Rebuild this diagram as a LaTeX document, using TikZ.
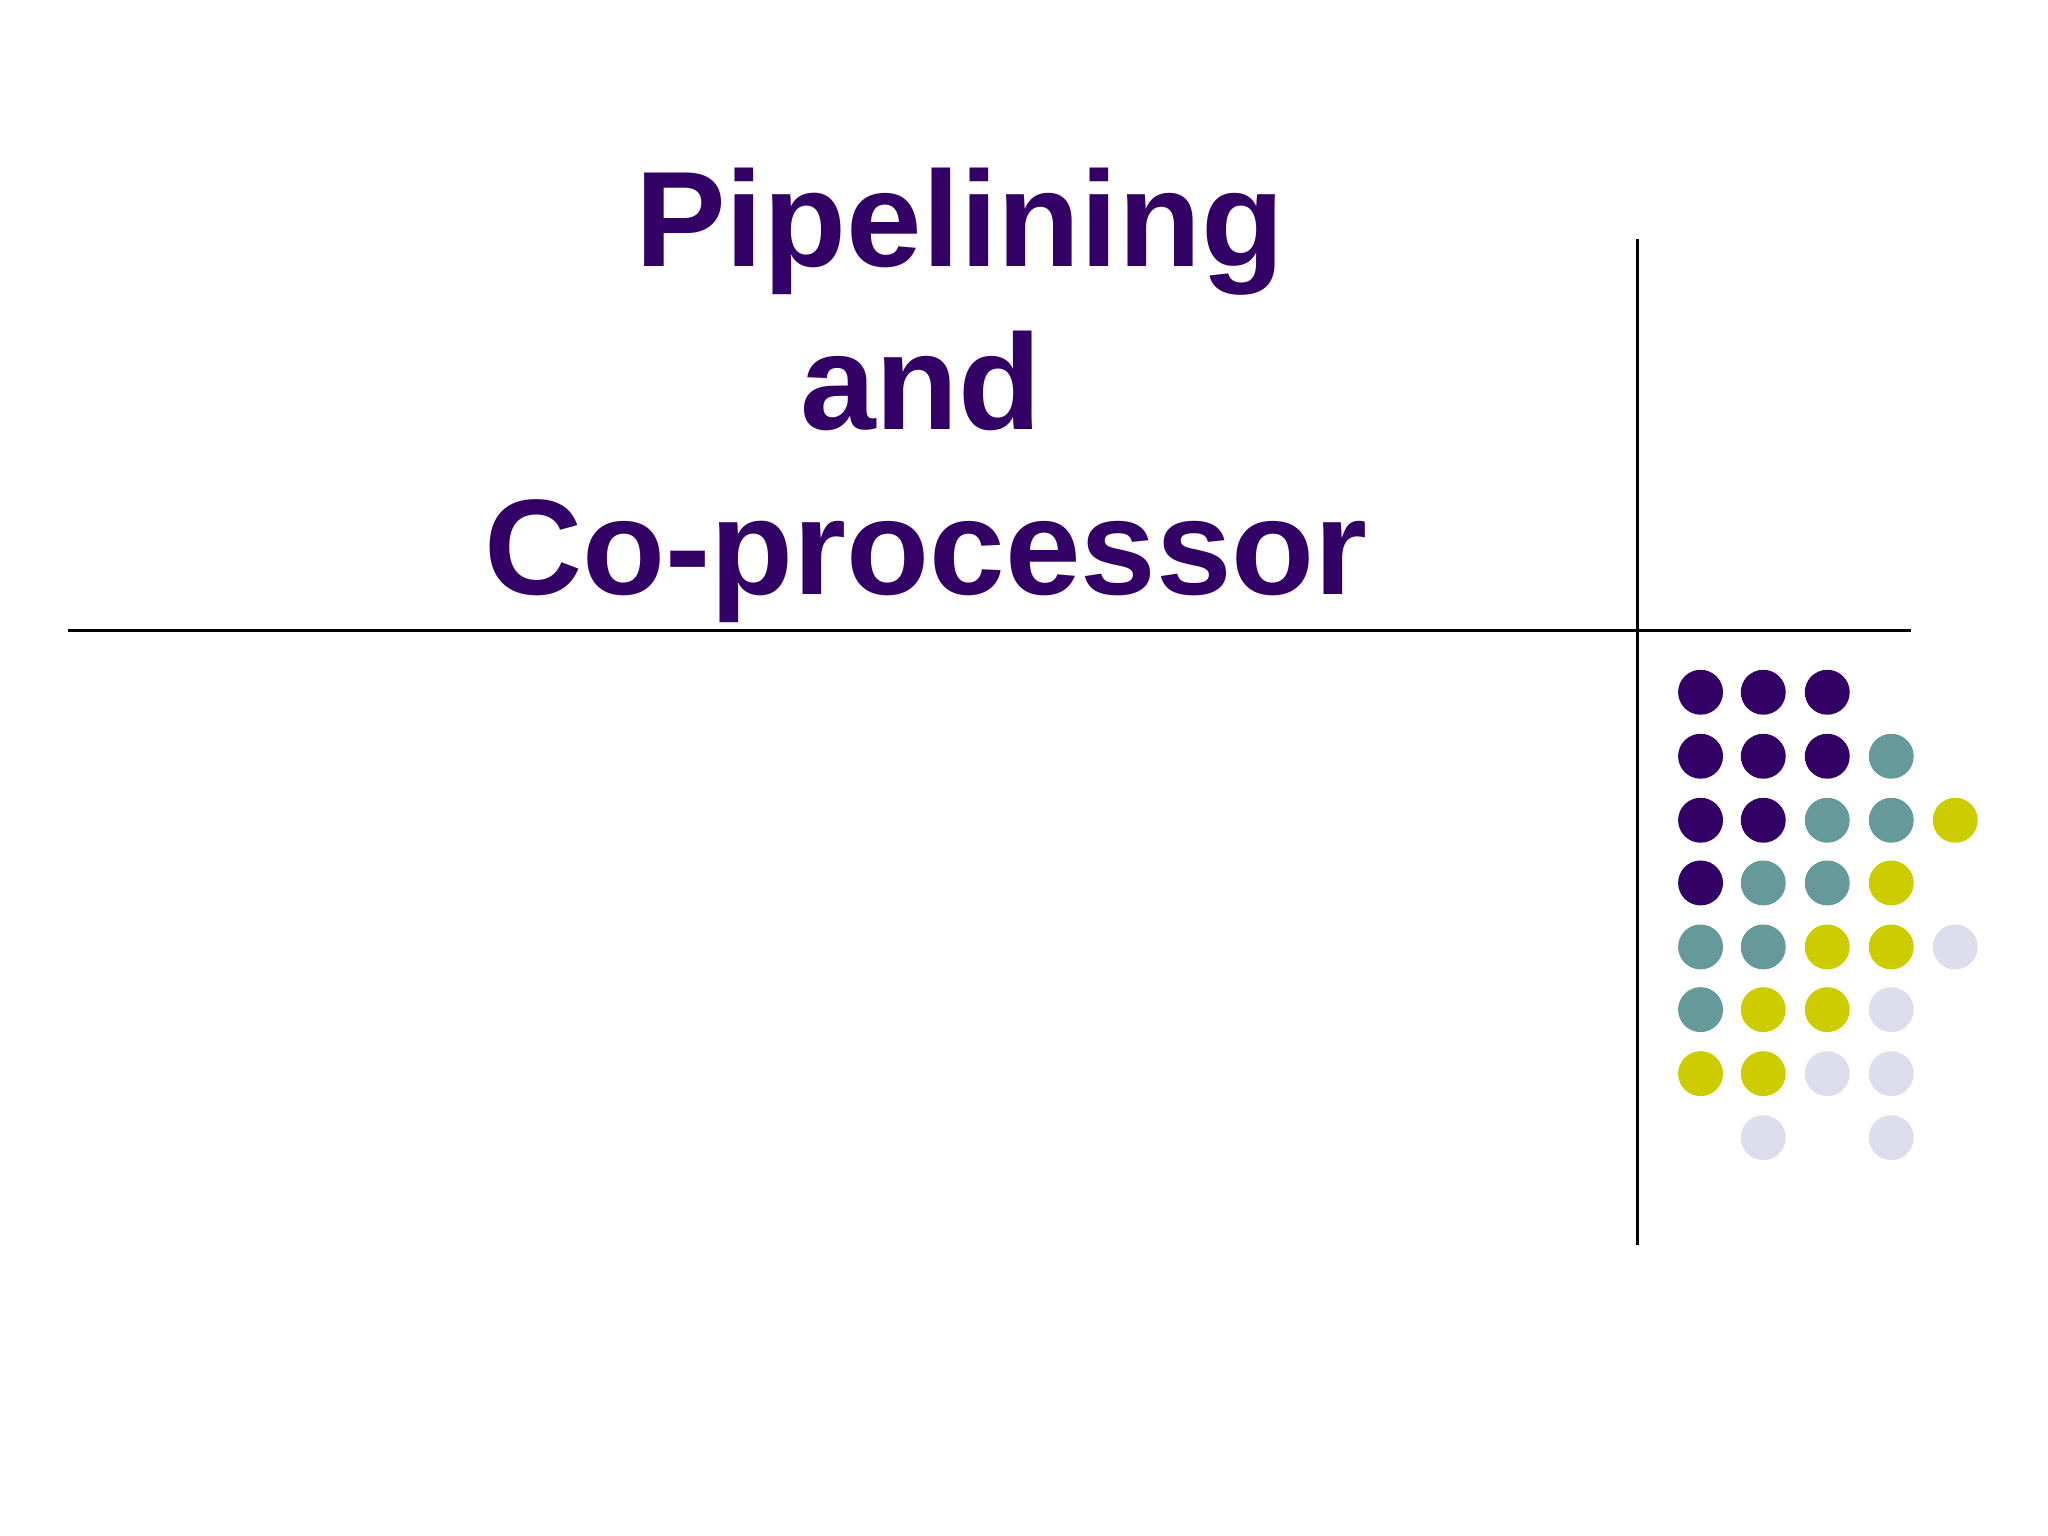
\documentclass[tikz,border=0pt]{standalone}
\usepackage{fontspec}
\setmainfont{Liberation Sans}
\definecolor{cP}{HTML}{330066}
\definecolor{cT}{HTML}{669999}
\definecolor{cY}{HTML}{CCCC00}
\definecolor{cL}{HTML}{DDDDEE}
\begin{document}
\begin{tikzpicture}[x=0.0125cm,y=-0.0125cm,
  ttl/.style={anchor=base,text=cP,font=\fontsize{37}{44}\selectfont\bfseries,inner sep=0pt},
  dot/.style={circle,minimum size=0.43cm,inner sep=0pt}]
\useasboundingbox (0,0) rectangle (1568,1176);
\node[ttl] (t1) at (735,204) {Pipelining};
\node[ttl] (t2) at (705,329) {and};
\node[ttl] (t3) at (709,455) {Co-processor};
\draw[line width=0.8pt] (52,483) coordinate (h1) -- (1463,483) coordinate (h2);
\draw[line width=0.8pt] (1254,183) coordinate (v1) -- (1254,953) coordinate (v2);
\def\xs{{1302,1350,1399,1448,1497}}
\foreach \row/\cols [count=\r] in {530/{P,P,P},579/{P,P,P,T},628/{P,P,T,T,Y},676/{P,T,T,Y},725/{T,T,Y,Y,L},773/{T,Y,Y,L},822/{Y,Y,L,L},871/{N,L,N,L}}{
  \foreach \c [count=\i from 0] in \cols {
    \if\c N\else
      \pgfmathsetmacro\xx{\xs[\i]}
      \node[dot,fill=c\c] (d\r-\i) at (\xx,\row) {};
    \fi
  }
}
\end{tikzpicture}
\end{document}
